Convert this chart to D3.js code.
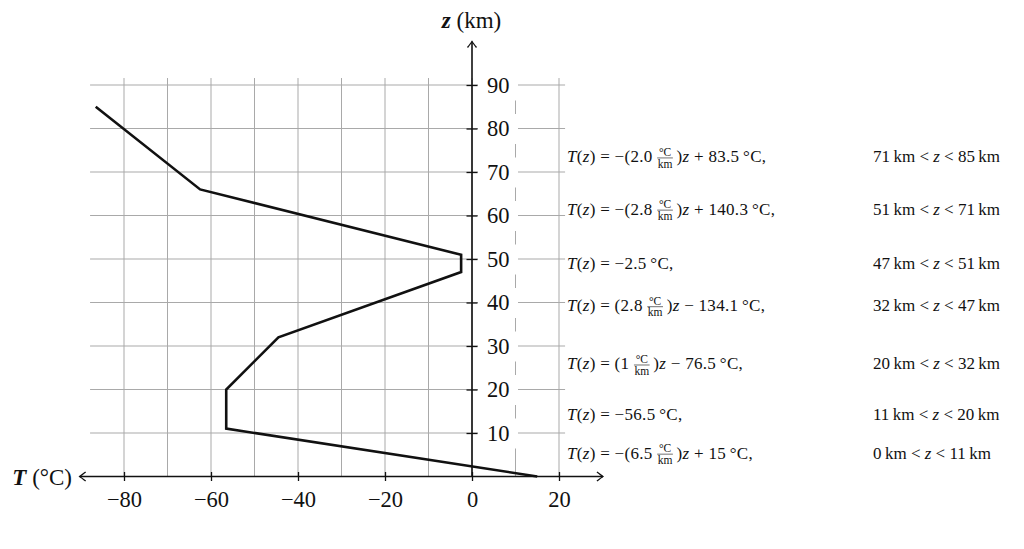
<!DOCTYPE html>
<html lang="en">
<head>
<meta charset="UTF-8">
<title>Standard atmosphere temperature profile</title>
<script src="https://d3js.org/d3.v7.min.js"></script>
<style>
  body { margin: 0; background: #fff; }
  svg { display: block; font-family: "Liberation Serif", "DejaVu Serif", serif; }
  .grid line { stroke: #a9a9a9; stroke-width: 1px; }
  .profile { fill: none; stroke: #111; stroke-width: 2.6px; stroke-linejoin: miter; }
  .axisline { stroke: #111; stroke-width: 1.6px; fill: none; }
  .tick line { stroke: #111; stroke-width: 1.3px; }
  .eq text { white-space: pre; font-size: 17px; fill: #111; }
  .eq .formula text { letter-spacing: 0.3px; }
</style>
</head>
<body>
<svg width="1024" height="549"></svg>
<script>
// temperature profile (T in degC, z in km)
const profileT = [15, -56.5, -56.5, -44.5, -2.5, -2.5, -62.5, -86.5];
const profileZ = [0, 11, 20, 32, 47, 51, 66, 85];

const xTicks = [-80, -60, -40, -20, 0, 20];
const zTicks = [10, 20, 30, 40, 50, 60, 70, 80, 90];

// piecewise formulas, top layer first
const layerLow = [71, 51, 47, 32, 20, 11, 0];
const layerHigh = [85, 71, 51, 47, 32, 20, 11];
const layerSign = ["−", "−", "", "", "", "", "−"];
const layerRate = ["2.0", "2.8", null, "2.8", "1", null, "6.5"];
const layerConst = ["+ 83.5", "+ 140.3", "−2.5", "− 134.1", "− 76.5", "−56.5", "+ 15"];

// where each formula row sits (z of its baseline)
const rowZ = [72.2, 60.2, 47.8, 38.0, 24.6, 12.9, 4.1];

const svg = d3.select("svg");

const x = d3.scaleLinear().domain([-80, 20]).range([124, 559]);
const y = d3.scaleLinear().domain([0, 90]).range([476.5, 85]);

// grid
const grid = svg.append("g").attr("class", "grid");
grid.selectAll("line.v")
    .data(d3.range(-80, 21, 10))
    .enter().append("line")
    .attr("class", "v")
    .attr("x1", d => x(d)).attr("x2", d => x(d))
    .attr("y1", y(0)).attr("y2", y(91.6));
grid.selectAll("line.h")
    .data(zTicks)
    .enter().append("line")
    .attr("class", "h")
    .attr("x1", x(-87.8)).attr("x2", x(21.4))
    .attr("y1", d => y(d)).attr("y2", d => y(d));

// arrow heads
svg.append("defs").append("marker")
    .attr("id", "arrow")
    .attr("viewBox", "-8 -6 10 12")
    .attr("refX", 0).attr("refY", 0)
    .attr("markerUnits", "userSpaceOnUse")
    .attr("markerWidth", 10).attr("markerHeight", 12)
    .attr("orient", "auto-start-reverse")
    .append("path")
    .attr("d", "M-6,-4.5 Q-1.5,-1 0,0 Q-1.5,1 -6,4.5")
    .attr("fill", "none")
    .attr("stroke", "#111")
    .attr("stroke-width", 1.3);

// profile
const line = d3.line().x(d => x(d[0])).y(d => y(d[1]));
svg.append("path")
    .attr("class", "profile")
    .attr("d", line(d3.zip(profileT, profileZ)));

// x axis
const xAxis = svg.append("g")
    .attr("transform", `translate(0,${y(0)})`)
    .call(d3.axisBottom(x).tickValues(xTicks).tickSizeInner(4.5).tickPadding(10));
xAxis.select(".domain").remove();
xAxis.selectAll(".tick line").attr("y1", -4.5);
xAxis.selectAll(".tick text")
    .style("font-family", "Liberation Serif, serif")
    .style("font-size", "22.5px")
    .attr("fill", "#111");

// y axis, labels on a white patch
const yAxis = svg.append("g")
    .attr("transform", `translate(${x(0)},0)`)
    .call(d3.axisRight(y).tickValues(zTicks).tickSizeInner(5.5).tickPadding(9.5));
yAxis.select(".domain").remove();
yAxis.selectAll(".tick line").attr("x1", -5.5);
yAxis.selectAll(".tick").insert("rect", "text")
    .attr("x", 6).attr("y", -15)
    .attr("width", 40).attr("height", 30)
    .attr("fill", "#fff");
yAxis.selectAll(".tick text")
    .style("font-family", "Liberation Serif, serif")
    .style("font-size", "22.5px")
    .attr("fill", "#111");

svg.append("line")
    .attr("class", "axisline")
    .attr("x1", x(-90.2)).attr("x2", x(30.1))
    .attr("y1", y(0)).attr("y2", y(0))
    .attr("marker-start", "url(#arrow)")
    .attr("marker-end", "url(#arrow)");
svg.append("line")
    .attr("class", "axisline")
    .attr("x1", x(0)).attr("x2", x(0))
    .attr("y1", y(0)).attr("y2", y(100))
    .attr("marker-end", "url(#arrow)");

// axis titles
const zTitle = svg.append("text")
    .attr("x", x(0) - 0.5).attr("y", 28)
    .attr("text-anchor", "middle")
    .style("font-size", "23px").attr("fill", "#111");
zTitle.append("tspan").text("z").style("font-style", "italic").style("font-weight", "bold");
zTitle.append("tspan").text(" (km)");

const tTitle = svg.append("text")
    .attr("x", 72).attr("y", y(0) + 8)
    .attr("text-anchor", "end")
    .style("font-size", "23px").attr("fill", "#111");
tTitle.append("tspan").text("T").style("font-style", "italic").style("font-weight", "bold");
tTitle.append("tspan").text(" (°C)");

// formulas
function tokens(i) {
    const t = [{ s: "T", it: true }, { s: "(" }, { s: "z", it: true }, { s: ") = " }];
    if (layerRate[i] !== null) {
        t.push({ s: layerSign[i] + "(" + layerRate[i] + " " });
        t.push({ frac: ["°C", "km"] });
        t.push({ s: "\u2009)" }, { s: "z", it: true }, { s: " " + layerConst[i] + "\u2009°C," });
    } else {
        t.push({ s: layerConst[i] + "\u2009°C," });
    }
    return t;
}

function writeRow(g, toks) {
    let cx = 0;
    toks.forEach(tk => {
        if (tk.frac) {
            const num = g.append("text").attr("y", -6.3).style("font-size", "11.5px").style("letter-spacing", "0px").text(tk.frac[0]);
            const den = g.append("text").attr("y", 5.2).style("font-size", "11.5px").style("letter-spacing", "0px").text(tk.frac[1]);
            const w = Math.max(num.node().getComputedTextLength(), den.node().getComputedTextLength()) + 1;
            num.attr("x", cx + w / 2).attr("text-anchor", "middle");
            den.attr("x", cx + w / 2).attr("text-anchor", "middle");
            g.append("line")
                .attr("x1", cx).attr("x2", cx + w)
                .attr("y1", -4.5).attr("y2", -4.5)
                .attr("stroke", "#111").attr("stroke-width", 0.6);
            cx += w;
        } else {
            const el = g.append("text").attr("x", cx).text(tk.s);
            if (tk.it) el.style("font-style", "italic");
            cx += el.node().getComputedTextLength();
        }
    });
}

const eq = svg.append("g").attr("class", "eq");
layerLow.forEach((lo, i) => {
    const row = eq.append("g").attr("class", "formula").attr("transform", `translate(567,${y(rowZ[i])})`);
    writeRow(row, tokens(i));
    const rng = eq.append("g").attr("transform", `translate(873,${y(rowZ[i])})`);
    writeRow(rng, [
        { s: lo + "\u2009km < " }, { s: "z", it: true }, { s: " < " + layerHigh[i] + "\u2009km" }
    ]);
});
</script>
</body>
</html>
